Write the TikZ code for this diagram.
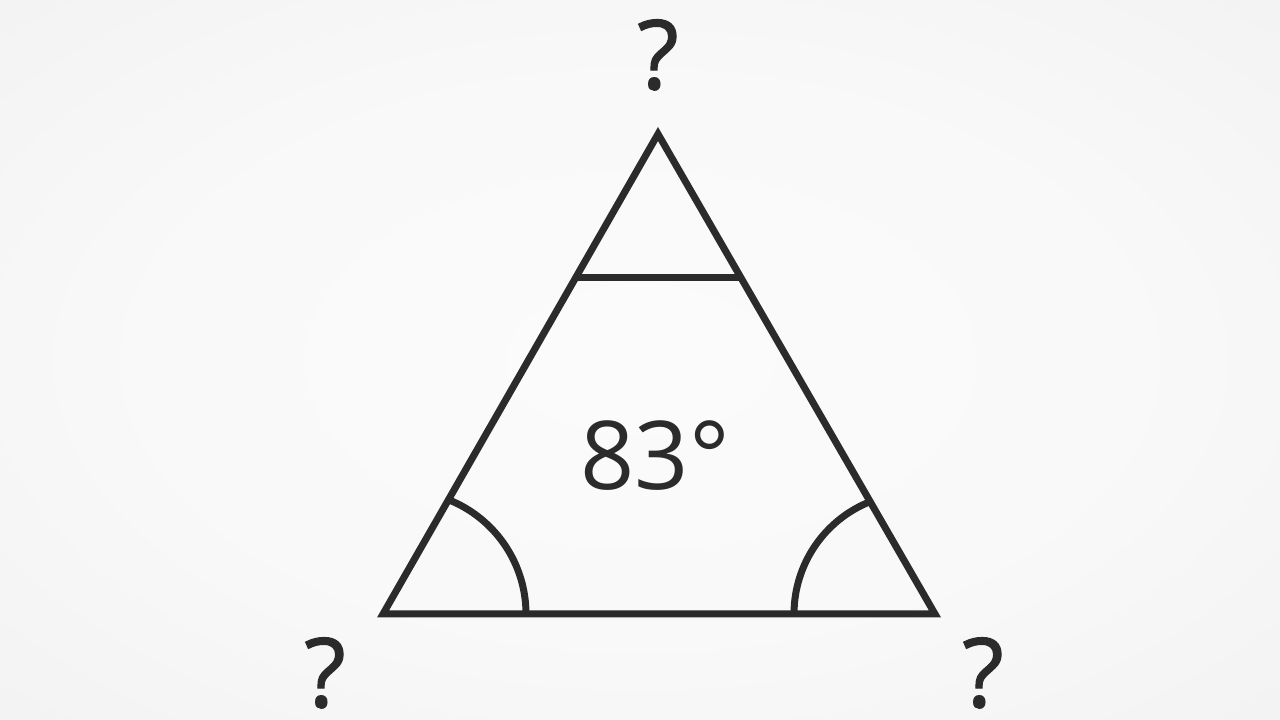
\documentclass[tikz,border=0pt]{standalone}
\usepackage{fontspec}
\setmainfont{Open Sans}
\newfontfamily\qfont[FakeBold=1.2]{Open Sans}
\usetikzlibrary{calc}
\definecolor{ink}{HTML}{2B2B2B}
\pgfdeclareradialshading{bgshade}{\pgfpoint{0bp}{0bp}}{rgb(0bp)=(0.985,0.985,0.985); rgb(20bp)=(0.975,0.975,0.975); rgb(50bp)=(0.93,0.93,0.93); rgb(72bp)=(0.91,0.91,0.91)}
\tikzset{
  edge/.style={draw=ink, line width=7pt, line join=miter},
  qmark/.style={text=ink, font=\qfont\fontsize{96}{96}\selectfont, anchor=base, inner sep=0pt},
  anglabel/.style={text=ink, font=\fontsize{95}{95}\selectfont, anchor=base, inner sep=0pt}
}
\begin{document}
\begin{tikzpicture}[x=1pt,y=1pt]
\useasboundingbox (0,0) rectangle (1280,720);
\shade[shading=bgshade] (0,0) rectangle (1280,720);
% vertices
\coordinate (A) at (658,586);
\coordinate (B) at (383,106);
\coordinate (C) at (935,106);
\coordinate (P) at ($(A)!0.298!(B)$);
\coordinate (Q) at ($(A)!0.298!(C)$);
\draw[edge] (A) -- (B) -- (C) -- cycle;
\draw[edge, line cap=butt] (P) -- (Q);
% angle arcs
\coordinate (Ls) at (526,106);
\coordinate (Rs) at (794,106);
\draw[edge, line cap=butt] (Ls) arc[start angle=0, end angle=68.3, radius=123];
\draw[edge, line cap=butt] (Rs) arc[start angle=180, end angle=111.5, radius=121];
% labels
\node[anglabel] (ang) at (655,230) {83°};
\node[qmark] (qa) at (658,631) {?};
\node[qmark] (qb) at (325,13) {?};
\node[qmark] (qc) at (983,13) {?};
\end{tikzpicture}
\end{document}
